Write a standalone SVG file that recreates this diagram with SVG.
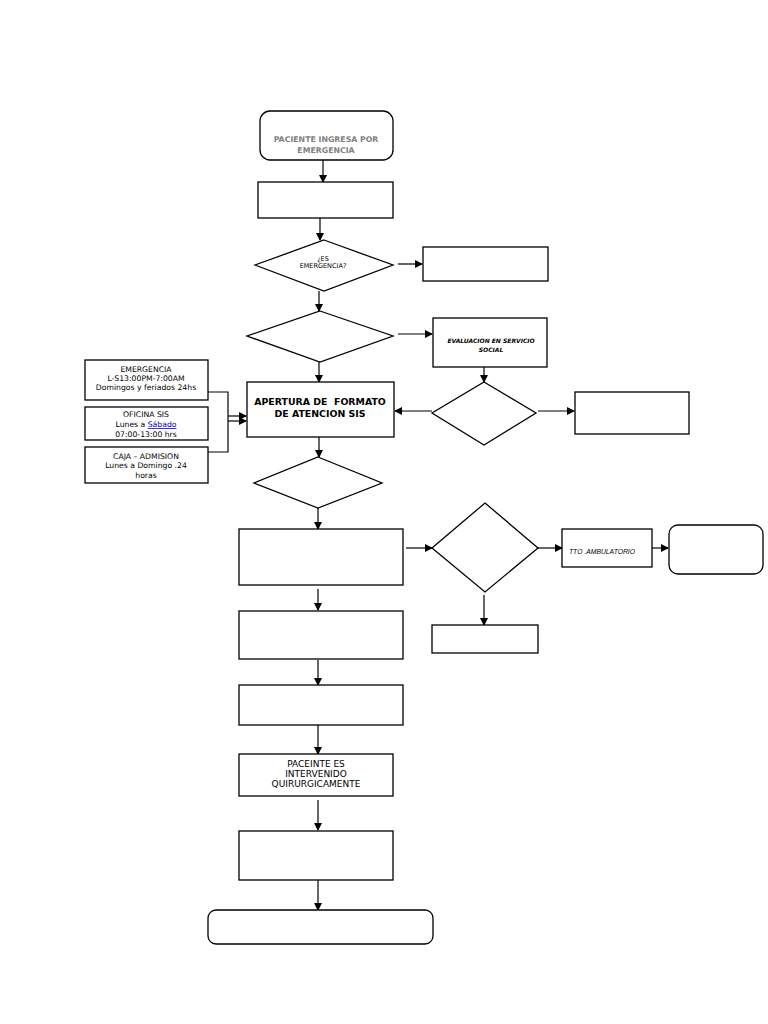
<svg xmlns="http://www.w3.org/2000/svg" width="768" height="1024" viewBox="0 0 768 1024">
<defs>
<marker id="ah" markerWidth="8" markerHeight="8" refX="7" refY="4" orient="auto" markerUnits="userSpaceOnUse">
<path d="M0,0 L8,4 L0,8 Z" fill="#000"/>
</marker>
<style>
.n{fill:#fff;stroke:#000;stroke-width:1.3}
.c{fill:none;stroke:#000;stroke-width:1.2;marker-end:url(#ah)}
.cl{fill:none;stroke:#000;stroke-width:1.2}
.t{font-family:"DejaVu Sans","Liberation Sans",sans-serif;text-anchor:middle;fill:#000}
</style>
</defs>
<rect width="768" height="1024" fill="#fff"/>
<g id="connectors">
<path class="c" d="M323,160 V182"/>
<path class="c" d="M320,218 V240"/>
<path class="c" d="M398,264 H422"/>
<path class="c" d="M319,291 V311"/>
<path class="c" d="M398,334 H432"/>
<path class="c" d="M319,362 V382"/>
<path class="c" d="M484,367 V382"/>
<path class="c" d="M432,411 H395"/>
<path class="c" d="M538,411 H574"/>
<path class="cl" d="M208,392 H228 V452 H208"/>
<path class="c" d="M228,416 H246"/>
<path class="c" d="M228,421 H246"/>
<path class="c" d="M319,437 V457"/>
<path class="c" d="M318,508 V529"/>
<path class="c" d="M406,548 H432"/>
<path class="c" d="M538,548 H562"/>
<path class="c" d="M652,548 H668"/>
<path class="c" d="M484,595 V625"/>
<path class="c" d="M318,589 V610"/>
<path class="c" d="M318,660 V685"/>
<path class="c" d="M318,725 V754"/>
<path class="c" d="M318,800 V830"/>
<path class="c" d="M318,880 V910"/>
</g>
<g id="n-start">
<rect class="n" x="260" y="111" width="133" height="49" rx="10"/>
<text class="t" x="326" y="142" font-size="7.8" font-weight="bold" style="fill:#808080">PACIENTE INGRESA POR</text>
<text class="t" x="326" y="153" font-size="7.8" font-weight="bold" style="fill:#808080">EMERGENCIA</text>
</g>
<g id="n-box2"><rect class="n" x="258" y="182" width="135" height="36"/></g>
<g id="n-es-emergencia">
<polygon class="n" points="324,240 393,265 324,291 255,265"/>
<text class="t" x="323" y="261" font-size="6.5">¿ES</text>
<text class="t" x="323" y="268" font-size="6.5">EMERGENCIA?</text>
</g>
<g id="n-box3"><rect class="n" x="423" y="247" width="125" height="34"/></g>
<g id="n-dec2"><polygon class="n" points="320,311 393,336 320,362 247,336"/></g>
<g id="n-eval">
<rect class="n" x="433" y="318" width="114" height="49"/>
<text class="t" x="491" y="343" font-size="6" font-weight="bold" font-style="italic">EVALUACION EN SERVICIO</text>
<text class="t" x="491" y="352" font-size="6" font-weight="bold" font-style="italic">SOCIAL</text>
</g>
<g id="n-apertura">
<rect class="n" x="247" y="382" width="147" height="55"/>
<text class="t" x="320" y="405" font-size="9.4" font-weight="bold" style="white-space:pre">APERTURA DE  FORMATO</text>
<text class="t" x="320" y="417" font-size="9.4" font-weight="bold">DE ATENCION SIS</text>
</g>
<g id="n-dec3"><polygon class="n" points="484,382 536,413 484,445 432,413"/></g>
<g id="n-box4"><rect class="n" x="575" y="392" width="114" height="42"/></g>
<g id="n-emergencia">
<rect class="n" x="85" y="360" width="123" height="40"/>
<text class="t" x="146" y="372" font-size="7.7">EMERGENCIA</text>
<text class="t" x="146" y="381" font-size="7.7">L-S13:00PM-7:00AM</text>
<text class="t" x="146" y="390" font-size="7.7">Domingos y feriados 24hs</text>
</g>
<g id="n-oficina">
<rect class="n" x="85" y="407" width="123" height="33"/>
<text class="t" x="146" y="417" font-size="7.7">OFICINA SIS</text>
<text class="t" x="146" y="427" font-size="7.7">Lunes a <tspan fill="#0000cc" text-decoration="underline">Sábado</tspan></text>
<text class="t" x="146" y="437" font-size="7.7">07:00-13:00 hrs</text>
</g>
<g id="n-caja">
<rect class="n" x="85" y="447" width="123" height="36"/>
<text class="t" x="146" y="459" font-size="7.7">CAJA – ADMISION</text>
<text class="t" x="146" y="468" font-size="7.7">Lunes a Domingo .24</text>
<text class="t" x="146" y="478" font-size="7.7">horas</text>
</g>
<g id="n-dec4"><polygon class="n" points="318,457 382,483 318,508 254,483"/></g>
<g id="n-box5"><rect class="n" x="239" y="529" width="164" height="56"/></g>
<g id="n-dec5"><polygon class="n" points="485,503 538,548 485,592 432,548"/></g>
<g id="n-tto">
<rect class="n" x="562" y="529" width="90" height="38"/>
<text class="t" x="602" y="554" font-size="6.8" font-style="italic" style="font-family:'Liberation Sans',sans-serif">TTO .AMBULATORIO</text>
</g>
<g id="n-end-right"><rect class="n" x="669" y="525" width="94" height="49" rx="9"/></g>
<g id="n-box-below"><rect class="n" x="432" y="625" width="106" height="28"/></g>
<g id="n-box6"><rect class="n" x="239" y="611" width="164" height="48"/></g>
<g id="n-box7"><rect class="n" x="239" y="685" width="164" height="40"/></g>
<g id="n-quirurgico">
<rect class="n" x="239" y="754" width="154" height="42"/>
<text class="t" x="316" y="767" font-size="9">PACEINTE ES</text>
<text class="t" x="316" y="777" font-size="9">INTERVENIDO</text>
<text class="t" x="316" y="787" font-size="9">QUIRURGICAMENTE</text>
</g>
<g id="n-box9"><rect class="n" x="239" y="831" width="154" height="49"/></g>
<g id="n-end"><rect class="n" x="208" y="910" width="225" height="34" rx="8"/></g>
</svg>
